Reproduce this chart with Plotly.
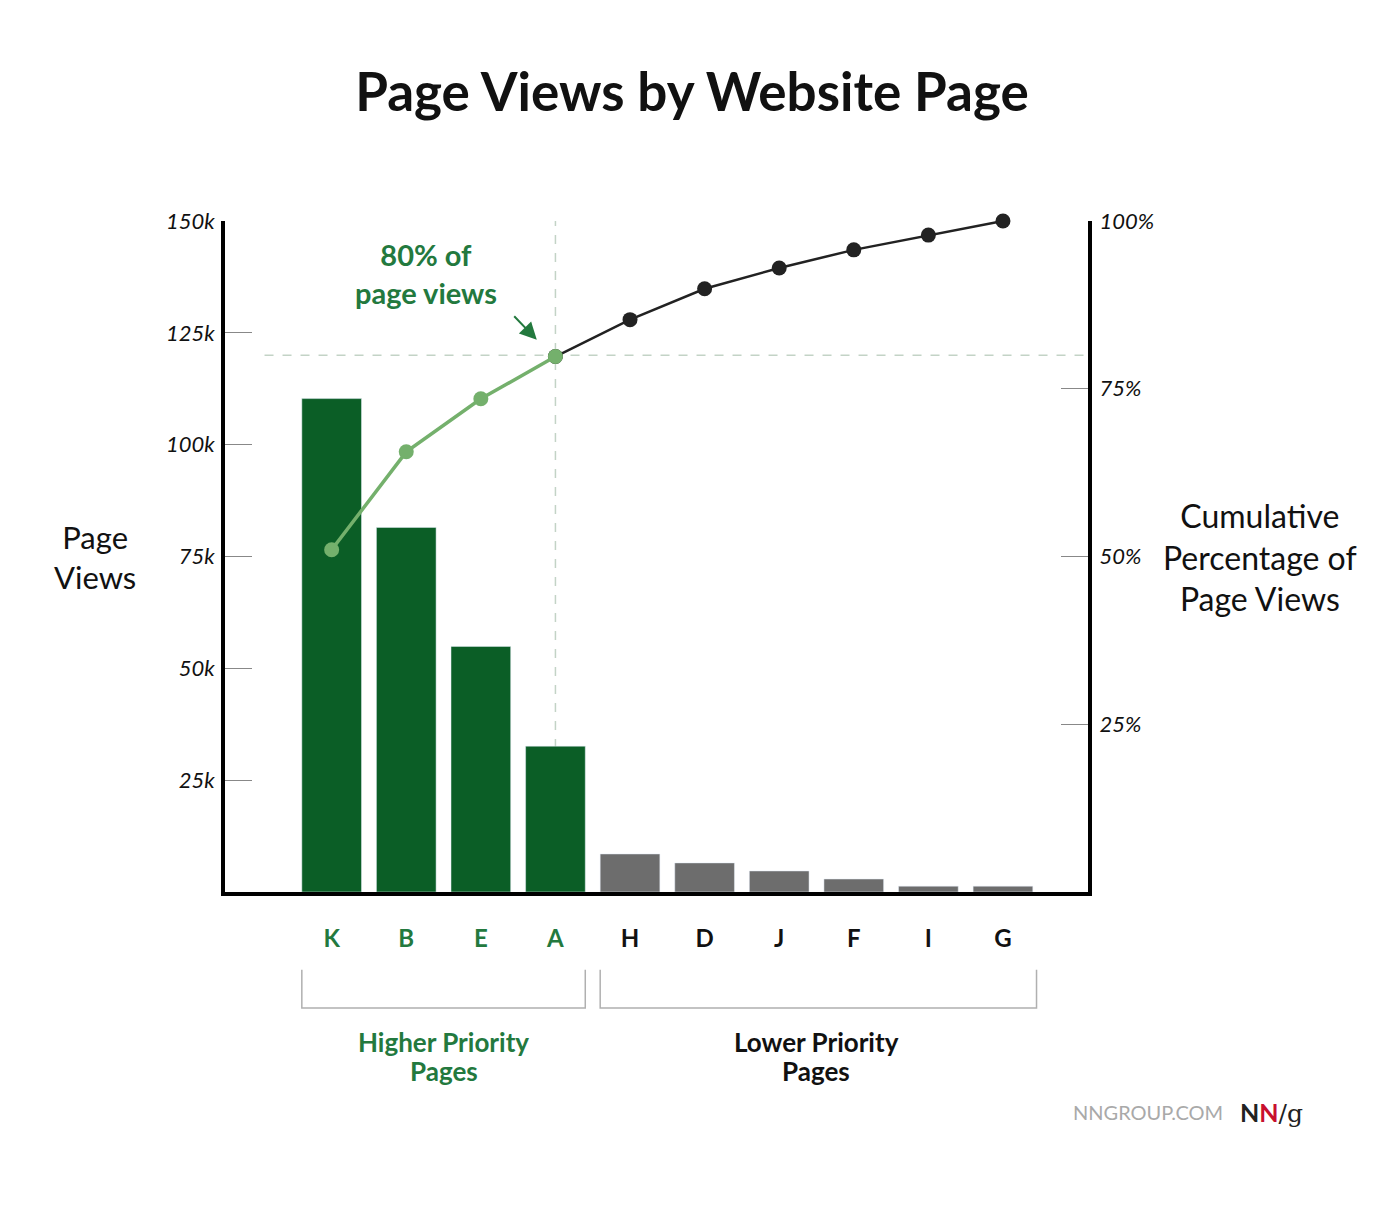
import plotly.graph_objects as go

pages = ["K", "B", "E", "A", "H", "D", "J", "F", "I", "G"]
page_views = [110300, 81500, 54900, 32600, 8500, 6500, 4700, 2900, 1300, 1300]
cumulative_pct = [51.0, 65.6, 73.5, 79.8, 85.3, 89.9, 93.0, 95.7, 97.9, 100.0]
n_high = 4  # K, B, E, A reach the 80% mark
threshold = 80

left_tickvals = [25000, 50000, 75000, 100000, 125000, 150000]
left_ticktext = ["25k", "50k", "75k", "100k", "125k", "150k"]
right_tickvals = [25, 50, 75, 100]
right_ticktext = ["25%", "50%", "75%", "100%"]

GREEN = "#0b5e26"
LIGHT_GREEN = "#74b06c"
TEXT_GREEN = "#23793e"
GRAY = "#6d6d6d"
FONT = "Lato"

bar_colors = [GREEN] * n_high + [GRAY] * (len(pages) - n_high)
tick_labels = [
    f"<span style='color:{TEXT_GREEN}'>{p}</span>" if i < n_high else p
    for i, p in enumerate(pages)
]

fig = go.Figure()
fig.add_trace(go.Bar(x=pages, y=page_views, marker_color=bar_colors,
                     width=0.8, showlegend=False))

# black part of the curve (A..G), then green part (K..A) on top
fig.add_trace(go.Scatter(x=pages[n_high - 1:], y=cumulative_pct[n_high - 1:],
                         yaxis="y2", mode="lines+markers",
                         line=dict(color="#222222", width=2.5),
                         marker=dict(color="#222222", size=15),
                         showlegend=False, cliponaxis=False))
fig.add_trace(go.Scatter(x=pages[:n_high], y=cumulative_pct[:n_high],
                         yaxis="y2", mode="lines+markers",
                         line=dict(color=LIGHT_GREEN, width=3.5),
                         marker=dict(color=LIGHT_GREEN, size=15),
                         showlegend=False))

# dashed guides at the 80% point
fig.add_shape(type="line", xref="x", yref="y2", x0=-0.9, x1=len(pages) + 0.14,
              y0=threshold, y1=threshold,
              line=dict(color="#c3d3c6", width=1.5, dash="dash"), layer="below")
fig.add_shape(type="line", xref="x", yref="paper", x0=n_high - 1, x1=n_high - 1,
              y0=0, y1=1,
              line=dict(color="#c3d3c6", width=1.5, dash="dash"), layer="below")

# brackets under the category labels
for x0, x1 in [(-0.4, n_high - 1 + 0.4), (n_high - 0.4, len(pages) - 1 + 0.45)]:
    fig.add_shape(type="path", xref="x", yref="paper",
                  path=f"M {x0},-0.116 L {x0},-0.173 L {x1},-0.173 L {x1},-0.116",
                  line=dict(color="#b0b0b0", width=1.5))

groups = [
    ((n_high - 1) / 2, ["Higher Priority", "Pages"], TEXT_GREEN),
    ((n_high + len(pages) - 1) / 2, ["Lower Priority", "Pages"], "#111111"),
]
for gx, lines, color in groups:
    for ly, line in zip([-0.2235, -0.2668], lines):
        fig.add_annotation(x=gx, y=ly, xref="x", yref="paper",
                           xanchor="center", yanchor="middle",
                           text=line, showarrow=False,
                           font=dict(family=FONT, size=26, color=color, weight="bold"))

fig.add_annotation(x=1.27, y=0.9225, xref="x", yref="paper",
                   xanchor="center", yanchor="middle",
                   text="80% of<br>page views", showarrow=False,
                   font=dict(family=FONT, size=29, color=TEXT_GREEN, weight="bold"))
fig.add_annotation(x=2.75, y=82.3, xref="x", yref="y2", ax=-24, ay=-25,
                   text="", showarrow=True, arrowhead=2, arrowsize=1.7,
                   arrowwidth=2, arrowcolor=TEXT_GREEN)

fig.add_annotation(x=-0.1506, y=0.5, xref="paper", yref="paper",
                   xanchor="center", yanchor="middle",
                   text="Page<br>Views", showarrow=False,
                   font=dict(family=FONT, size=31, color="#111111"))
fig.add_annotation(x=1.199, y=0.5, xref="paper", yref="paper",
                   xanchor="center", yanchor="middle",
                   text="Cumulative<br>Percentage of<br>Page Views", showarrow=False,
                   font=dict(family=FONT, size=32, color="#111111"))

fig.add_annotation(x=1.0695, y=-0.328, xref="paper", yref="paper",
                   xanchor="center", yanchor="middle",
                   text="NNGROUP.COM", showarrow=False,
                   font=dict(family=FONT, size=20, color="#a9a9a9"))
fig.add_annotation(x=1.213, y=-0.328, xref="paper", yref="paper",
                   xanchor="center", yanchor="middle",
                   text="<b>N<span style='color:#c8102e'>N</span></b>"
                        "<span style='font-family:DejaVu Serif'>/g</span>",
                   showarrow=False,
                   font=dict(family=FONT, size=25, color="#222222"))

fig.update_layout(
    width=1368, height=1195,
    margin=dict(l=217, r=288, t=213, b=311),
    paper_bgcolor="white", plot_bgcolor="white",
    title=dict(text="<b>Page Views by Website Page</b>", x=0.5, xref="container",
               xanchor="center", y=0.9297, yanchor="middle",
               font=dict(family=FONT, size=53, color="#111111")),
    bargap=0.2,
    xaxis=dict(type="category", categoryorder="array", categoryarray=pages,
               range=[-1.43, len(pages) + 0.14],
               tickvals=pages, ticktext=tick_labels, ticks="",
               ticklabelstandoff=22,
               tickfont=dict(family=FONT, size=24, color="#111111", weight="bold"),
               showline=True, linecolor="black", linewidth=4,
               showgrid=False, zeroline=False),
    yaxis=dict(range=[0, 150000], tickvals=left_tickvals, ticktext=left_ticktext,
               ticks="inside", ticklen=27, tickcolor="#888888", tickwidth=1,
               ticklabelstandoff=2,
               tickfont=dict(family=FONT, size=22, color="#111111", style="italic"),
               showline=True, linecolor="black", linewidth=4,
               showgrid=False, zeroline=False),
    yaxis2=dict(range=[0, 100], overlaying="y", side="right",
                tickvals=right_tickvals, ticktext=right_ticktext,
                ticks="inside", ticklen=27, tickcolor="#888888", tickwidth=1,
                ticklabelstandoff=3,
                tickfont=dict(family=FONT, size=22, color="#111111", style="italic"),
                showline=True, linecolor="black", linewidth=4,
                showgrid=False, zeroline=False),
)

fig.write_html("out.html")
